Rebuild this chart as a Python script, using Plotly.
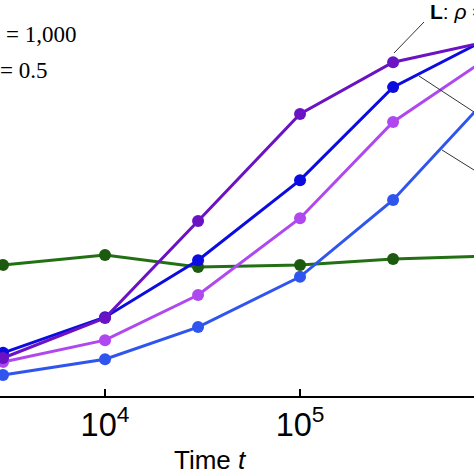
import plotly.graph_objects as go

# Data (y in arbitrary units, 0 = bottom axis)
time_t = [3000, 10000, 30000, 100000, 300000, 1000000]

series_names = ["L1", "L2", "L3", "L4", "baseline"]
y_purple = [0.096, 0.197, 0.442, 0.712, 0.843, 0.899]
y_blue = [0.109, 0.199, 0.343, 0.545, 0.780, 0.912]
y_violet = [0.086, 0.141, 0.255, 0.449, 0.692, 0.866]
y_midblue = [0.053, 0.093, 0.174, 0.301, 0.495, 0.773]
y_green = [0.331, 0.356, 0.326, 0.331, 0.346, 0.354]

line_colors = ["#6a12c4", "#0c0ce0", "#b048f0", "#2f55ee", "#237014"]
marker_colors = ["#6a12c4", "#0c0ce0", "#b048f0", "#2f55ee", "#1c5a10"]

fig = go.Figure()

# green first so the rising curves sit on top of it
order = [4, 3, 2, 1, 0]
all_y = [y_purple, y_blue, y_violet, y_midblue, y_green]
for i in order:
    fig.add_trace(go.Scatter(
        x=time_t, y=all_y[i],
        mode="lines+markers",
        name=series_names[i],
        line=dict(color=line_colors[i], width=3),
        marker=dict(color=marker_colors[i], size=12),
    ))

W, H = 474, 396  # plot area in pixels


def px(x, y):
    # pixel -> paper coords
    return x / W, 1 - y / H


# leader lines for the labels at the top right
leaders = [((394, 53), (424, 22)), ((419, 76), (474, 112)), ((442, 150), (474, 170))]
for (a, b) in leaders:
    x0, y0 = px(*a)
    x1, y1 = px(*b)
    fig.add_shape(type="line", xref="paper", yref="paper",
                  x0=x0, y0=y0, x1=x1, y1=y1,
                  line=dict(color="#333333", width=1))

ann_font = dict(family="Liberation Serif", size=23, color="black")
fig.add_annotation(x=px(78, 0)[0], y=px(0, 34)[1], xref="paper", yref="paper",
                   text="= 1,000", showarrow=False, xanchor="right", yanchor="middle",
                   font=ann_font)
fig.add_annotation(x=px(49, 0)[0], y=px(0, 70)[1], xref="paper", yref="paper",
                   text="= 0.5", showarrow=False, xanchor="right", yanchor="middle",
                   font=ann_font)
fig.add_annotation(x=px(428, 0)[0], y=px(0, 12)[1], xref="paper", yref="paper",
                   text="<b>L</b>: <i>ρ</i> =", showarrow=False, xanchor="left", yanchor="middle",
                   font=dict(family="Liberation Sans", size=21, color="black"))

# axis title sits left of the plot centre in the reference crop
fig.add_annotation(x=px(210, 0)[0], y=px(0, 460)[1], xref="paper", yref="paper",
                   text="Time <i>t</i>", showarrow=False, xanchor="center", yanchor="middle",
                   font=dict(family="Liberation Sans", size=26, color="black"))

fig.update_layout(
    width=474, height=474,
    margin=dict(l=0, r=0, t=0, b=78, pad=0),
    paper_bgcolor="white", plot_bgcolor="white",
    showlegend=False,
    font=dict(family="Liberation Sans", color="black"),
)

fig.update_xaxes(
    type="log", range=[3.4615, 5.892],
    dtick=1, exponentformat="power",
    showgrid=False, zeroline=False,
    showline=True, linecolor="black", linewidth=2,
    ticks="inside", ticklen=7, tickwidth=1.5, tickcolor="black",
    tickfont=dict(size=26, color="black"),
)
fig.update_yaxes(range=[0, 1], visible=False)

# drop the default page margin so the figure sits at the window corner
fig.write_html("out.html", config={"displayModeBar": False},
               post_script="document.body.style.margin='0';")
